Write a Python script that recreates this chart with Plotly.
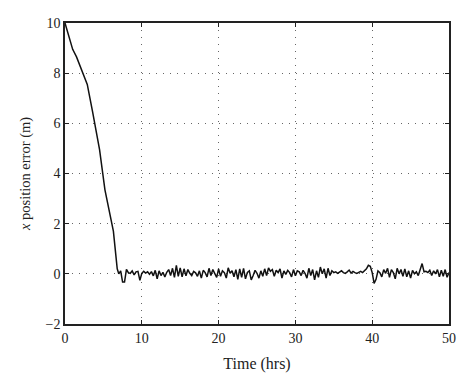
import plotly.graph_objects as go

# Initial decay phase (hrs, m)
t_decay = [0.0, 0.4, 1.0, 1.5, 2.1, 2.9, 3.6, 4.5, 5.2, 5.8, 6.3, 6.8]
y_decay = [10.0, 9.55, 8.95, 8.65, 8.2, 7.55, 6.45, 4.95, 3.35, 2.5, 1.7, 0.2]

# Steady-state error, sampled every 0.25 hrs from t = 7.0 to 50.0
t_steady_start = 7.0
t_steady_step = 0.25
y_steady = [
    0.00, 0.12, -0.33, -0.33, 0.18, 0.05, 0.02, 0.12, -0.04, 0.08, 0.10, -0.26,
    0.02, 0.10, 0.03, 0.08, -0.02, 0.09, -0.08, 0.14, -0.20, 0.12, -0.07, 0.06,
    -0.12, 0.06, 0.17, -0.07, 0.22, -0.14, 0.34, -0.10, 0.24, -0.12, 0.20, -0.08,
    0.17, 0.02, -0.07, 0.10, 0.04, -0.10, 0.12, -0.17, 0.14, 0.05, -0.12, 0.22,
    -0.07, 0.17, 0.00, -0.14, 0.20, -0.10, 0.12, 0.05, -0.17, 0.24, 0.02, 0.12,
    -0.12, 0.17, -0.22, 0.20, -0.14, 0.22, -0.20, 0.06, 0.12, -0.24, -0.07, 0.14,
    0.02, -0.17, 0.12, -0.10, 0.20, -0.07, 0.24, 0.10, 0.17, -0.10, 0.14, 0.05,
    0.20, -0.17, 0.12, -0.02, 0.14, 0.05, -0.12, 0.17, -0.08, 0.12, 0.08, -0.07,
    0.14, 0.02, -0.17, 0.22, -0.07, 0.17, -0.24, 0.12, -0.14, 0.27, 0.00, 0.20,
    -0.17, 0.22, -0.07, 0.12, 0.05, 0.08, 0.02, 0.06, 0.12, 0.05, 0.02, 0.08,
    0.15, 0.03, 0.10, 0.05, 0.02, 0.06, 0.10, 0.05, 0.12, 0.20, 0.34, 0.30,
    0.05, -0.38, -0.22, 0.12, 0.05, -0.12, 0.17, 0.02, 0.22, -0.14, 0.17, 0.05,
    -0.20, 0.22, 0.00, 0.17, -0.10, 0.20, -0.12, 0.12, -0.17, 0.14, 0.00, 0.08,
    -0.07, 0.15, 0.41, 0.08, 0.10, 0.05, 0.14, -0.07, 0.12, 0.00, 0.17, -0.12,
    0.14, -0.10, 0.17, -0.14, 0.05,
]

x_ticks = [0, 10, 20, 30, 40, 50]
y_ticks = [-2, 0, 2, 4, 6, 8, 10]

t_steady = [t_steady_start + i * t_steady_step for i in range(len(y_steady))]
t_all = t_decay + t_steady
y_all = y_decay + y_steady

FONT = "Liberation Serif, Times New Roman, serif"
INK = "#222222"

fig = go.Figure()
fig.add_trace(go.Scatter(
    x=t_all, y=y_all, mode="lines",
    line=dict(color="#111111", width=1.5),
    showlegend=False,
))

axis_common = dict(
    showline=True, linecolor=INK, linewidth=1.5, mirror="ticks",
    ticks="inside", ticklen=4, tickcolor=INK, tickwidth=1,
    showgrid=True, gridcolor="#666666", gridwidth=1, griddash="1px,6px",
    zeroline=False,
    tickfont=dict(family=FONT, size=14, color=INK),
)

fig.update_xaxes(
    range=[0, 50], tickvals=x_ticks,
    title=dict(text="Time (hrs)", font=dict(family=FONT, size=16, color=INK), standoff=13),
    **axis_common,
)
fig.update_yaxes(
    range=[-2, 10], tickvals=y_ticks,
    title=dict(text="<i>x</i> position error (m)", font=dict(family=FONT, size=14.5, color=INK), standoff=11),
    **axis_common,
)

# The page body adds an 8 px margin, so the figure is shrunk by that amount.
fig.update_layout(
    width=466, height=376,
    margin=dict(l=57, r=25, t=15, b=60, autoexpand=False),
    paper_bgcolor="white", plot_bgcolor="white",
    font=dict(family=FONT, size=14, color=INK),
)

fig.write_html("out.html")
